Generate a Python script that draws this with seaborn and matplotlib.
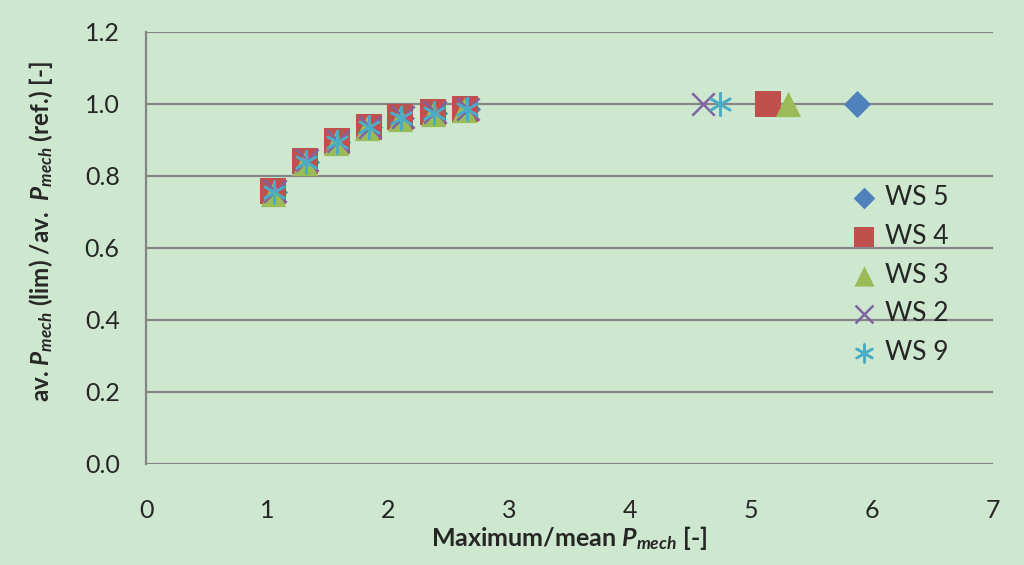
import matplotlib
matplotlib.use('Agg')
import matplotlib.pyplot as plt
import seaborn as sns

# dados
series = ['WS 5', 'WS 4', 'WS 3', 'WS 2', 'WS 9']

x_ws5 = [1.06, 1.32, 1.58, 1.84, 2.11, 2.38, 2.65, 5.88]
y_ws5 = [0.755, 0.840, 0.895, 0.935, 0.962, 0.976, 0.986, 1.0]

x_ws4 = [1.05, 1.31, 1.58, 1.84, 2.10, 2.37, 2.64, 5.14]
y_ws4 = [0.757, 0.842, 0.897, 0.937, 0.963, 0.977, 0.987, 1.0]

x_ws3 = [1.05, 1.31, 1.57, 1.83, 2.10, 2.37, 2.63, 5.31]
y_ws3 = [0.750, 0.835, 0.892, 0.932, 0.958, 0.973, 0.983, 1.0]

x_ws2 = [1.07, 1.33, 1.59, 1.85, 2.12, 2.39, 2.66, 4.60]
y_ws2 = [0.758, 0.843, 0.898, 0.937, 0.963, 0.977, 0.987, 1.0]

x_ws9 = [1.06, 1.32, 1.58, 1.84, 2.11, 2.38, 2.65, 4.74]
y_ws9 = [0.755, 0.840, 0.895, 0.935, 0.962, 0.976, 0.986, 1.0]

dados = {
    'WS 5': (x_ws5, y_ws5),
    'WS 4': (x_ws4, y_ws4),
    'WS 3': (x_ws3, y_ws3),
    'WS 2': (x_ws2, y_ws2),
    'WS 9': (x_ws9, y_ws9),
}

cores = {'WS 5': '#4F81BD', 'WS 4': '#C0504D', 'WS 3': '#9BBB59',
         'WS 2': '#8064A2', 'WS 9': '#4BACC6'}
marcadores = {'WS 5': 'D', 'WS 4': 's', 'WS 3': '^', 'WS 2': 'x', 'WS 9': (6, 2, 0)}
tamanhos = {'WS 5': 190, 'WS 4': 330, 'WS 3': 330, 'WS 2': 260, 'WS 9': 260}

bg = '#CDE8CE'
sns.set_style('white')
plt.rcParams['font.family'] = ['Lato', 'DejaVu Sans']
plt.rcParams['mathtext.fontset'] = 'custom'
plt.rcParams['mathtext.it'] = 'Lato:italic:bold'
plt.rcParams['mathtext.rm'] = 'Lato:bold'
plt.rcParams['mathtext.bf'] = 'Lato:bold'

fig = plt.figure(figsize=(10.24, 5.65), dpi=100, facecolor=bg)
ax = fig.add_axes([0.1426, 0.1788, 0.8271, 0.7646])
ax.set_facecolor(bg)

for s in series:
    x, y = dados[s]
    m = marcadores[s]
    if m in ('x', (6, 2, 0)):
        sns.scatterplot(x=x, y=y, ax=ax, marker=m, color=cores[s], s=tamanhos[s],
                        linewidth=1.8, label=s, zorder=3)
    else:
        sns.scatterplot(x=x, y=y, ax=ax, marker=m, color=cores[s], s=tamanhos[s],
                        linewidth=0, label=s, zorder=3)

ax.set_xlim(0, 7)
ax.set_ylim(0, 1.2)
ax.set_xticks(range(0, 8))
ax.set_yticks([0, 0.2, 0.4, 0.6, 0.8, 1.0, 1.2])
ax.set_yticklabels([f'{v:.1f}' for v in [0, 0.2, 0.4, 0.6, 0.8, 1.0, 1.2]])
ax.tick_params(axis='both', labelsize=18, length=0)
ax.tick_params(axis='y', pad=19)
ax.tick_params(axis='x', pad=25)

ax.grid(axis='y', color='#868686', linewidth=1.6, zorder=0)
ax.set_axisbelow(True)
for lado in ['top', 'right', 'bottom']:
    ax.spines[lado].set_visible(False)
ax.spines['left'].set_color('#868686')
ax.spines['left'].set_linewidth(1.6)

ax.set_xlabel(r'Maximum/mean $P_{mech}$ [-]', fontsize=18, fontweight='bold', labelpad=2)
ax.set_ylabel(r'av. $P_{mech}$ (lim) /av.  $P_{mech}$ (ref.) [-]', fontsize=17.5,
              fontweight='bold')
ax.yaxis.set_label_coords(-0.107, 0.539)

leg = ax.legend(loc='center left', bbox_to_anchor=(0.82, 0.437), frameon=False,
                fontsize=19, handlelength=1.0, handletextpad=0.3, labelspacing=0.52,
                markerscale=0.8, borderaxespad=0)

plt.savefig('out.png', dpi=100, facecolor=bg)
